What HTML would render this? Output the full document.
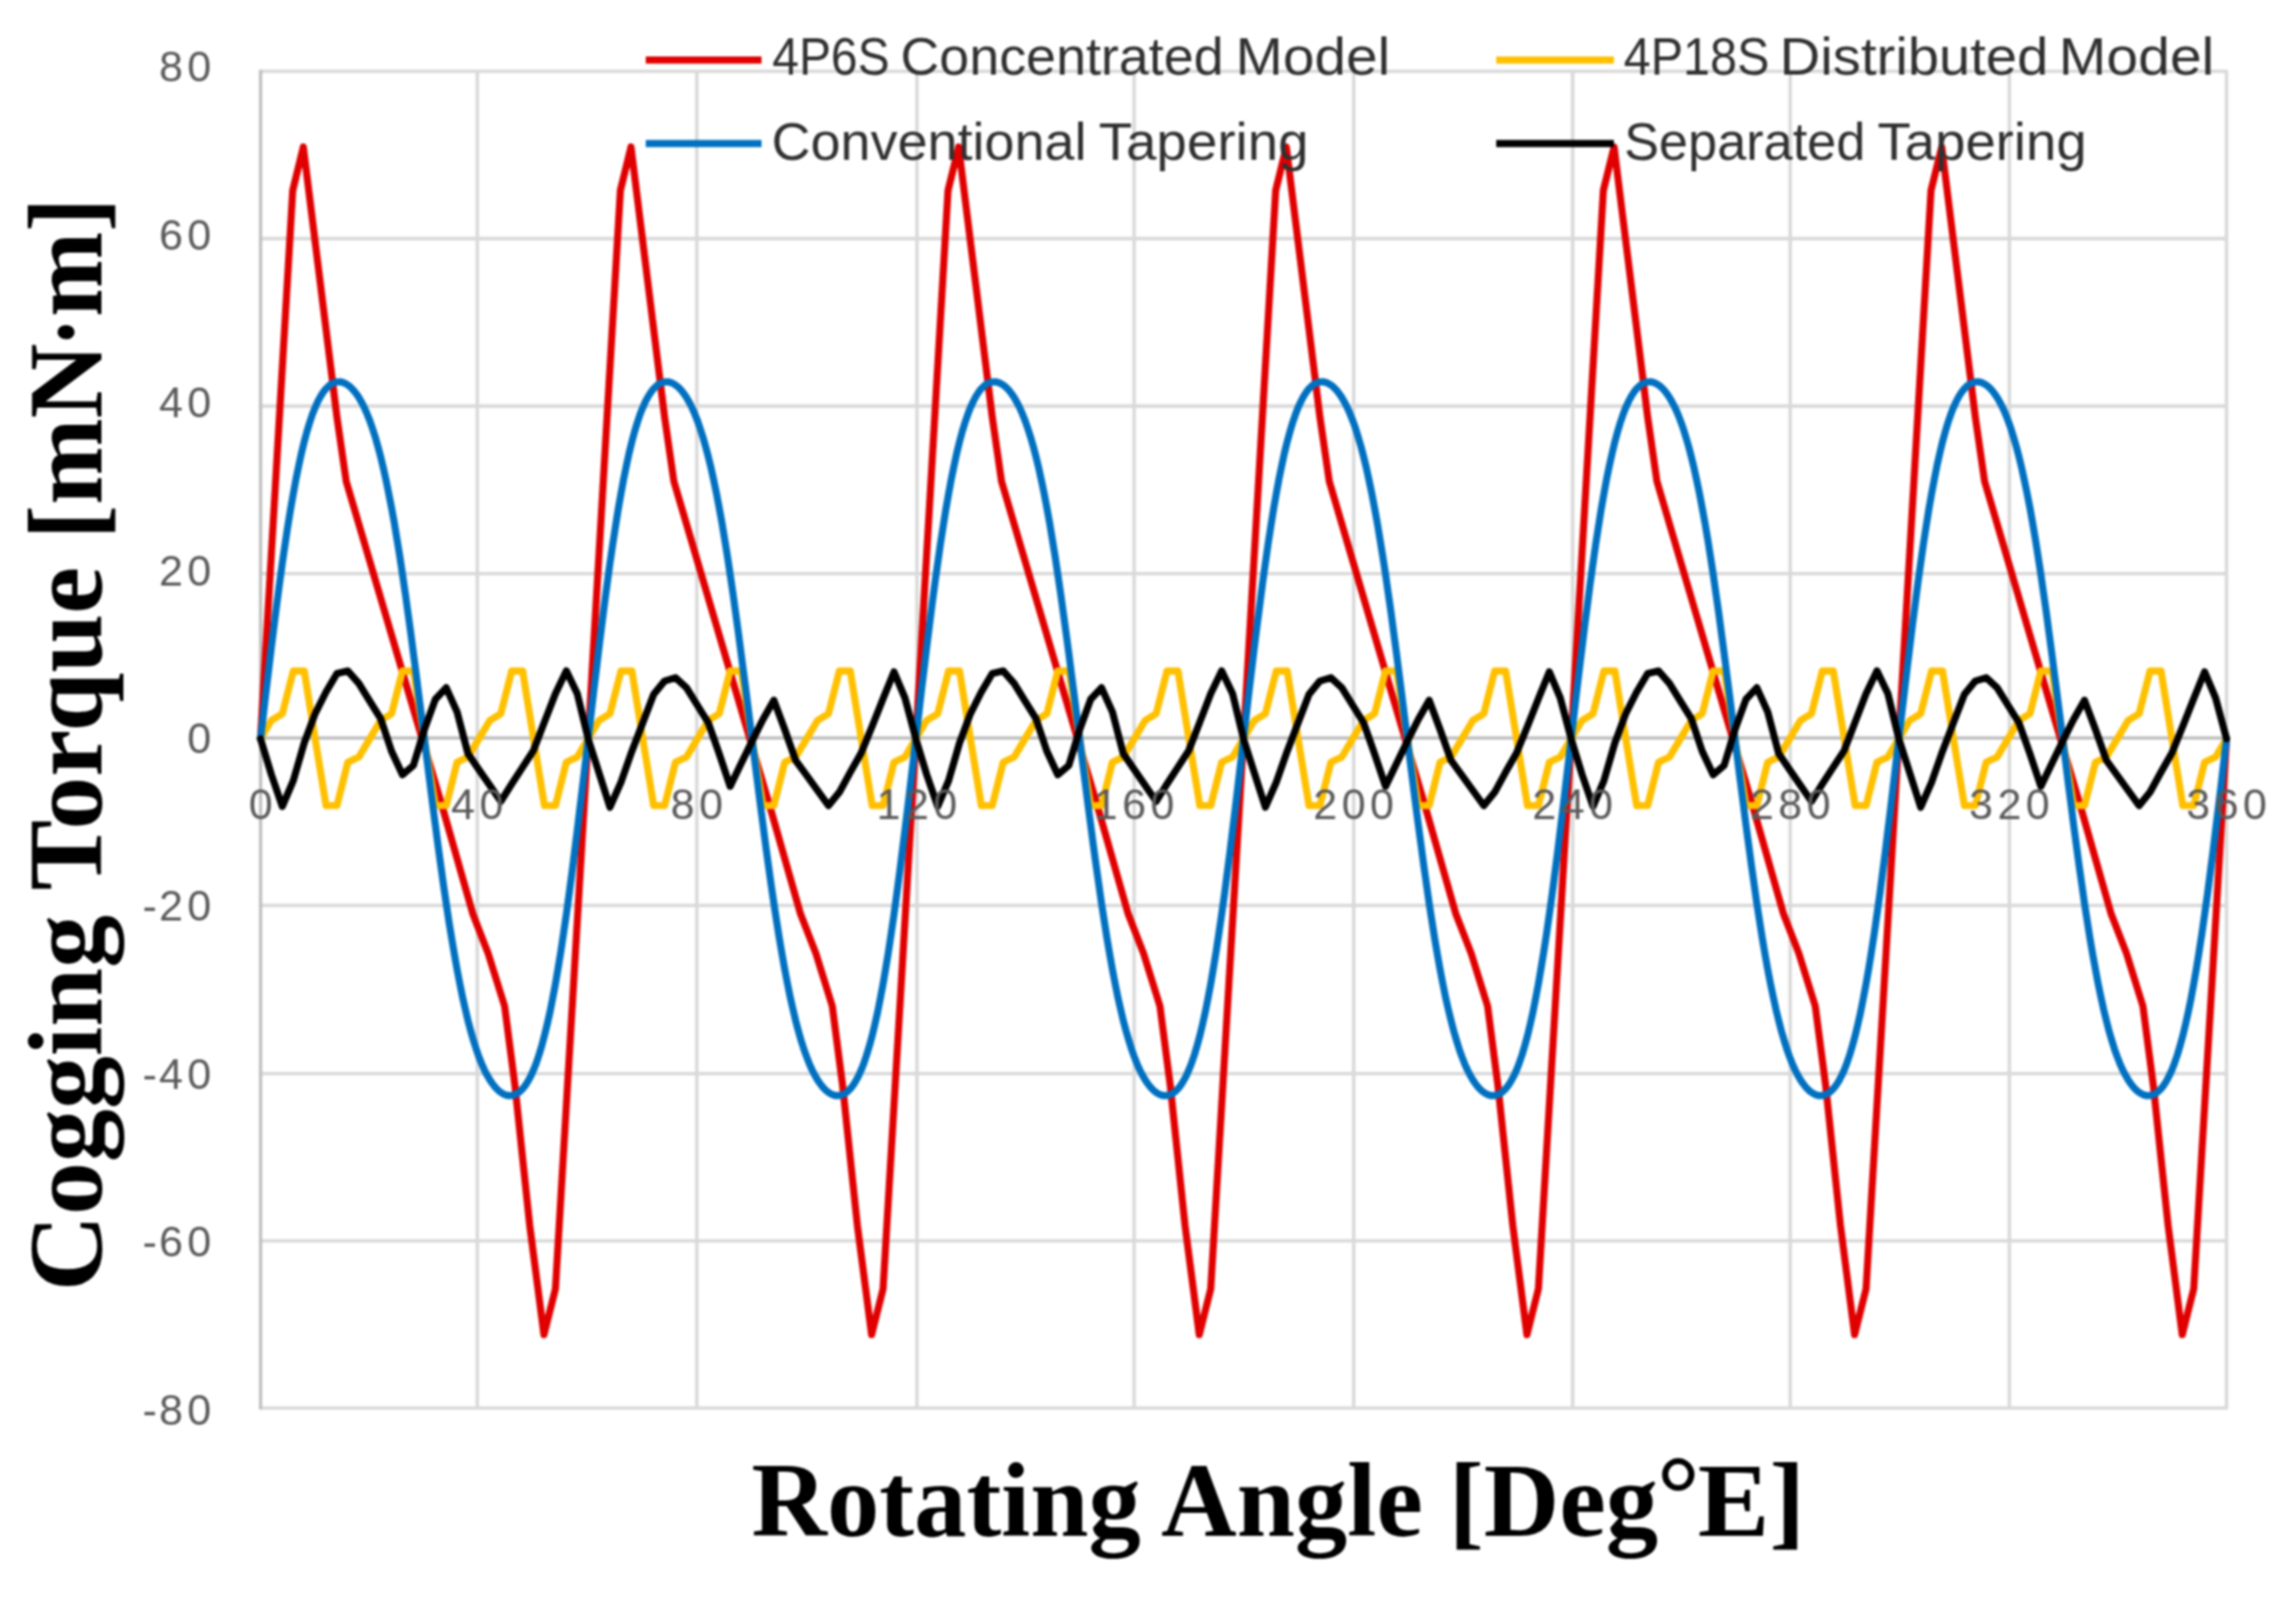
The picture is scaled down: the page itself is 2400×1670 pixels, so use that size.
<!DOCTYPE html>
<html lang="en">
<head>
<meta charset="utf-8">
<title>Cogging Torque vs Rotating Angle</title>
<style>
html,body{margin:0;padding:0;background:#ffffff;}
body{width:2400px;height:1670px;overflow:hidden;}
svg{display:block;filter:blur(0.9px);}
</style>
</head>
<body>
<svg width="2400" height="1670" viewBox="0 0 2400 1670">
<rect width="2400" height="1670" fill="#ffffff"/>
<g stroke="#d9d9d9" stroke-width="3.6" fill="none">
<line x1="270.9" y1="74.5" x2="2328.9" y2="74.5"/>
<line x1="270.9" y1="249.4" x2="2328.9" y2="249.4"/>
<line x1="270.9" y1="424.4" x2="2328.9" y2="424.4"/>
<line x1="270.9" y1="599.5" x2="2328.9" y2="599.5"/>
<line x1="270.9" y1="946.3" x2="2328.9" y2="946.3"/>
<line x1="270.9" y1="1122.0" x2="2328.9" y2="1122.0"/>
<line x1="270.9" y1="1296.8" x2="2328.9" y2="1296.8"/>
<line x1="270.9" y1="1471.5" x2="2328.9" y2="1471.5"/>
<line x1="498.9" y1="74.5" x2="498.9" y2="1471.5"/>
<line x1="728.4" y1="74.5" x2="728.4" y2="1471.5"/>
<line x1="958.5" y1="74.5" x2="958.5" y2="1471.5"/>
<line x1="1185.5" y1="74.5" x2="1185.5" y2="1471.5"/>
<line x1="1415.0" y1="74.5" x2="1415.0" y2="1471.5"/>
<line x1="1643.9" y1="74.5" x2="1643.9" y2="1471.5"/>
<line x1="1871.3" y1="74.5" x2="1871.3" y2="1471.5"/>
<line x1="2100.4" y1="74.5" x2="2100.4" y2="1471.5"/>
<line x1="2327.4" y1="74.5" x2="2327.4" y2="1471.5"/>
</g>
<g stroke="#bfbfbf" stroke-width="3.4" fill="none">
<line x1="272.4" y1="73.0" x2="272.4" y2="1473.0"/>
<line x1="272.4" y1="771.2" x2="2328.9" y2="771.2"/>
</g>
<g fill="none" stroke-width="7.4" stroke-linejoin="round" stroke-linecap="round">
<path stroke="#e00000" d="M272.3,772.0 L306.0,199.0 L317.1,153.6 L352.2,435.7 L361.9,503.0 L441.3,772.0 L463.0,845.4 L494.4,955.4 L510.3,996.5 L527.5,1051.5 L538.3,1134.5 L553.7,1280.4 L568.6,1394.8 L580.6,1346.8 L614.8,772.0 L648.5,199.0 L659.6,153.6 L694.7,435.7 L704.4,503.0 L783.8,772.0 L805.5,845.4 L836.9,955.4 L852.9,996.5 L870.0,1051.5 L880.8,1134.5 L896.2,1280.4 L911.1,1394.8 L923.1,1346.8 L957.3,772.0 L991.0,199.0 L1002.1,153.6 L1037.2,435.7 L1046.9,503.0 L1126.3,772.0 L1148.0,845.4 L1179.4,955.4 L1195.4,996.5 L1212.5,1051.5 L1223.3,1134.5 L1238.7,1280.4 L1253.6,1394.8 L1265.6,1346.8 L1299.8,772.0 L1333.5,199.0 L1344.6,153.6 L1379.7,435.7 L1389.5,503.0 L1468.8,772.0 L1490.5,845.4 L1521.9,955.4 L1537.9,996.5 L1555.0,1051.5 L1565.8,1134.5 L1581.3,1280.4 L1596.1,1394.8 L1608.1,1346.8 L1642.3,772.0 L1676.0,199.0 L1687.2,153.6 L1722.3,435.7 L1732.0,503.0 L1811.3,772.0 L1833.0,845.4 L1864.4,955.4 L1880.4,996.5 L1897.5,1051.5 L1908.4,1134.5 L1923.8,1280.4 L1938.6,1394.8 L1950.6,1346.8 L1984.8,772.0 L2018.5,199.0 L2029.7,153.6 L2064.8,435.7 L2074.5,503.0 L2153.8,772.0 L2175.5,845.4 L2206.9,955.4 L2222.9,996.5 L2240.0,1051.5 L2250.9,1134.5 L2266.3,1280.4 L2281.1,1394.8 L2293.1,1346.8 L2327.4,772.0"/>
<path stroke="#ffc000" d="M272.3,772.0 L283.7,752.8 L295.1,745.8 L306.6,701.2 L318.0,701.2 L329.4,772.0 L340.8,841.9 L352.2,841.9 L363.6,796.5 L375.1,791.2 L386.5,772.0 L397.9,752.8 L409.3,745.8 L420.7,701.2 L432.1,701.2 L443.6,772.0 L455.0,841.9 L466.4,841.9 L477.8,796.5 L489.2,791.2 L500.6,772.0 L512.1,752.8 L523.5,745.8 L534.9,701.2 L546.3,701.2 L557.7,772.0 L569.1,841.9 L580.6,841.9 L592.0,796.5 L603.4,791.2 L614.8,772.0 L626.2,752.8 L637.6,745.8 L649.1,701.2 L660.5,701.2 L671.9,772.0 L683.3,841.9 L694.7,841.9 L706.1,796.5 L717.6,791.2 L729.0,772.0 L740.4,752.8 L751.8,745.8 L763.2,701.2 L774.6,701.2 L786.1,772.0 L797.5,841.9 L808.9,841.9 L820.3,796.5 L831.7,791.2 L843.2,772.0 L854.6,752.8 L866.0,745.8 L877.4,701.2 L888.8,701.2 L900.2,772.0 L911.7,841.9 L923.1,841.9 L934.5,796.5 L945.9,791.2 L957.3,772.0 L968.7,752.8 L980.2,745.8 L991.6,701.2 L1003.0,701.2 L1014.4,772.0 L1025.8,841.9 L1037.2,841.9 L1048.7,796.5 L1060.1,791.2 L1071.5,772.0 L1082.9,752.8 L1094.3,745.8 L1105.7,701.2 L1117.2,701.2 L1128.6,772.0 L1140.0,841.9 L1151.4,841.9 L1162.8,796.5 L1174.2,791.2 L1185.7,772.0 L1197.1,752.8 L1208.5,745.8 L1219.9,701.2 L1231.3,701.2 L1242.7,772.0 L1254.2,841.9 L1265.6,841.9 L1277.0,796.5 L1288.4,791.2 L1299.8,772.0 L1311.2,752.8 L1322.7,745.8 L1334.1,701.2 L1345.5,701.2 L1356.9,772.0 L1368.3,841.9 L1379.7,841.9 L1391.2,796.5 L1402.6,791.2 L1414.0,772.0 L1425.4,752.8 L1436.8,745.8 L1448.3,701.2 L1459.7,701.2 L1471.1,772.0 L1482.5,841.9 L1493.9,841.9 L1505.3,796.5 L1516.8,791.2 L1528.2,772.0 L1539.6,752.8 L1551.0,745.8 L1562.4,701.2 L1573.8,701.2 L1585.3,772.0 L1596.7,841.9 L1608.1,841.9 L1619.5,796.5 L1630.9,791.2 L1642.3,772.0 L1653.8,752.8 L1665.2,745.8 L1676.6,701.2 L1688.0,701.2 L1699.4,772.0 L1710.8,841.9 L1722.3,841.9 L1733.7,796.5 L1745.1,791.2 L1756.5,772.0 L1767.9,752.8 L1779.3,745.8 L1790.8,701.2 L1802.2,701.2 L1813.6,772.0 L1825.0,841.9 L1836.4,841.9 L1847.8,796.5 L1859.3,791.2 L1870.7,772.0 L1882.1,752.8 L1893.5,745.8 L1904.9,701.2 L1916.3,701.2 L1927.8,772.0 L1939.2,841.9 L1950.6,841.9 L1962.0,796.5 L1973.4,791.2 L1984.8,772.0 L1996.3,752.8 L2007.7,745.8 L2019.1,701.2 L2030.5,701.2 L2041.9,772.0 L2053.4,841.9 L2064.8,841.9 L2076.2,796.5 L2087.6,791.2 L2099.0,772.0 L2110.4,752.8 L2121.9,745.8 L2133.3,701.2 L2144.7,701.2 L2156.1,772.0 L2167.5,841.9 L2178.9,841.9 L2190.4,796.5 L2201.8,791.2 L2213.2,772.0 L2224.6,752.8 L2236.0,745.8 L2247.4,701.2 L2258.9,701.2 L2270.3,772.0 L2281.7,841.9 L2293.1,841.9 L2304.5,796.5 L2315.9,791.2 L2327.4,772.0"/>
<path stroke="#0070c0" d="M272.3,772.0 L275.2,747.7 L278.0,723.4 L280.9,699.5 L283.7,676.0 L286.6,653.0 L289.4,630.7 L292.3,609.1 L295.1,588.5 L298.0,568.7 L300.8,550.0 L303.7,532.4 L306.6,515.9 L309.4,500.6 L312.3,486.4 L315.1,473.5 L318.0,461.7 L320.8,451.1 L323.7,441.6 L326.5,433.2 L329.4,425.9 L332.2,419.6 L335.1,414.2 L337.9,409.8 L340.8,406.1 L343.7,403.3 L346.5,401.2 L349.4,399.8 L352.2,399.1 L355.1,399.0 L357.9,399.5 L360.8,400.7 L363.6,402.4 L366.5,404.7 L369.3,407.6 L372.2,411.2 L375.1,415.4 L377.9,420.3 L380.8,425.9 L383.6,432.3 L386.5,439.5 L389.3,447.6 L392.2,456.6 L395.0,466.5 L397.9,477.3 L400.7,489.2 L403.6,502.1 L406.4,515.9 L409.3,530.8 L412.2,546.7 L415.0,563.6 L417.9,581.4 L420.7,600.1 L423.6,619.7 L426.4,639.9 L429.3,660.9 L432.1,682.4 L435.0,704.4 L437.8,726.7 L440.7,749.3 L443.6,772.0 L446.4,794.7 L449.3,817.3 L452.1,839.6 L455.0,861.6 L457.8,883.1 L460.7,904.1 L463.5,924.3 L466.4,943.9 L469.2,962.6 L472.1,980.4 L475.0,997.3 L477.8,1013.2 L480.7,1028.1 L483.5,1041.9 L486.4,1054.8 L489.2,1066.7 L492.1,1077.5 L494.9,1087.4 L497.8,1096.4 L500.6,1104.5 L503.5,1111.7 L506.3,1118.1 L509.2,1123.7 L512.1,1128.6 L514.9,1132.8 L517.8,1136.4 L520.6,1139.3 L523.5,1141.6 L526.3,1143.3 L529.2,1144.5 L532.0,1145.0 L534.9,1144.9 L537.7,1144.2 L540.6,1142.8 L543.5,1140.7 L546.3,1137.9 L549.2,1134.2 L552.0,1129.8 L554.9,1124.4 L557.7,1118.1 L560.6,1110.8 L563.4,1102.4 L566.3,1092.9 L569.1,1082.3 L572.0,1070.5 L574.9,1057.6 L577.7,1043.4 L580.6,1028.1 L583.4,1011.6 L586.3,994.0 L589.1,975.3 L592.0,955.5 L594.8,934.9 L597.7,913.3 L600.5,891.0 L603.4,868.0 L606.2,844.5 L609.1,820.6 L612.0,796.3 L614.8,772.0 L617.7,747.7 L620.5,723.4 L623.4,699.5 L626.2,676.0 L629.1,653.0 L631.9,630.7 L634.8,609.1 L637.6,588.5 L640.5,568.7 L643.4,550.0 L646.2,532.4 L649.1,515.9 L651.9,500.6 L654.8,486.4 L657.6,473.5 L660.5,461.7 L663.3,451.1 L666.2,441.6 L669.0,433.2 L671.9,425.9 L674.7,419.6 L677.6,414.2 L680.5,409.8 L683.3,406.1 L686.2,403.3 L689.0,401.2 L691.9,399.8 L694.7,399.1 L697.6,399.0 L700.4,399.5 L703.3,400.7 L706.1,402.4 L709.0,404.7 L711.9,407.6 L714.7,411.2 L717.6,415.4 L720.4,420.3 L723.3,425.9 L726.1,432.3 L729.0,439.5 L731.8,447.6 L734.7,456.6 L737.5,466.5 L740.4,477.3 L743.3,489.2 L746.1,502.1 L749.0,515.9 L751.8,530.8 L754.7,546.7 L757.5,563.6 L760.4,581.4 L763.2,600.1 L766.1,619.7 L768.9,639.9 L771.8,660.9 L774.6,682.4 L777.5,704.4 L780.4,726.7 L783.2,749.3 L786.1,772.0 L788.9,794.7 L791.8,817.3 L794.6,839.6 L797.5,861.6 L800.3,883.1 L803.2,904.1 L806.0,924.3 L808.9,943.9 L811.8,962.6 L814.6,980.4 L817.5,997.3 L820.3,1013.2 L823.2,1028.1 L826.0,1041.9 L828.9,1054.8 L831.7,1066.7 L834.6,1077.5 L837.4,1087.4 L840.3,1096.4 L843.2,1104.5 L846.0,1111.7 L848.9,1118.1 L851.7,1123.7 L854.6,1128.6 L857.4,1132.8 L860.3,1136.4 L863.1,1139.3 L866.0,1141.6 L868.8,1143.3 L871.7,1144.5 L874.5,1145.0 L877.4,1144.9 L880.3,1144.2 L883.1,1142.8 L886.0,1140.7 L888.8,1137.9 L891.7,1134.2 L894.5,1129.8 L897.4,1124.4 L900.2,1118.1 L903.1,1110.8 L905.9,1102.4 L908.8,1092.9 L911.7,1082.3 L914.5,1070.5 L917.4,1057.6 L920.2,1043.4 L923.1,1028.1 L925.9,1011.6 L928.8,994.0 L931.6,975.3 L934.5,955.5 L937.3,934.9 L940.2,913.3 L943.0,891.0 L945.9,868.0 L948.8,844.5 L951.6,820.6 L954.5,796.3 L957.3,772.0 L960.2,747.7 L963.0,723.4 L965.9,699.5 L968.7,676.0 L971.6,653.0 L974.4,630.7 L977.3,609.1 L980.2,588.5 L983.0,568.7 L985.9,550.0 L988.7,532.4 L991.6,515.9 L994.4,500.6 L997.3,486.4 L1000.1,473.5 L1003.0,461.7 L1005.8,451.1 L1008.7,441.6 L1011.6,433.2 L1014.4,425.9 L1017.3,419.6 L1020.1,414.2 L1023.0,409.8 L1025.8,406.1 L1028.7,403.3 L1031.5,401.2 L1034.4,399.8 L1037.2,399.1 L1040.1,399.0 L1042.9,399.5 L1045.8,400.7 L1048.7,402.4 L1051.5,404.7 L1054.4,407.6 L1057.2,411.2 L1060.1,415.4 L1062.9,420.3 L1065.8,425.9 L1068.6,432.3 L1071.5,439.5 L1074.3,447.6 L1077.2,456.6 L1080.1,466.5 L1082.9,477.3 L1085.8,489.2 L1088.6,502.1 L1091.5,515.9 L1094.3,530.8 L1097.2,546.7 L1100.0,563.6 L1102.9,581.4 L1105.7,600.1 L1108.6,619.7 L1111.4,639.9 L1114.3,660.9 L1117.2,682.4 L1120.0,704.4 L1122.9,726.7 L1125.7,749.3 L1128.6,772.0 L1131.4,794.7 L1134.3,817.3 L1137.1,839.6 L1140.0,861.6 L1142.8,883.1 L1145.7,904.1 L1148.6,924.3 L1151.4,943.9 L1154.3,962.6 L1157.1,980.4 L1160.0,997.3 L1162.8,1013.2 L1165.7,1028.1 L1168.5,1041.9 L1171.4,1054.8 L1174.2,1066.7 L1177.1,1077.5 L1180.0,1087.4 L1182.8,1096.4 L1185.7,1104.5 L1188.5,1111.7 L1191.4,1118.1 L1194.2,1123.7 L1197.1,1128.6 L1199.9,1132.8 L1202.8,1136.4 L1205.6,1139.3 L1208.5,1141.6 L1211.3,1143.3 L1214.2,1144.5 L1217.1,1145.0 L1219.9,1144.9 L1222.8,1144.2 L1225.6,1142.8 L1228.5,1140.7 L1231.3,1137.9 L1234.2,1134.2 L1237.0,1129.8 L1239.9,1124.4 L1242.7,1118.1 L1245.6,1110.8 L1248.5,1102.4 L1251.3,1092.9 L1254.2,1082.3 L1257.0,1070.5 L1259.9,1057.6 L1262.7,1043.4 L1265.6,1028.1 L1268.4,1011.6 L1271.3,994.0 L1274.1,975.3 L1277.0,955.5 L1279.9,934.9 L1282.7,913.3 L1285.6,891.0 L1288.4,868.0 L1291.3,844.5 L1294.1,820.6 L1297.0,796.3 L1299.8,772.0 L1302.7,747.7 L1305.5,723.4 L1308.4,699.5 L1311.2,676.0 L1314.1,653.0 L1317.0,630.7 L1319.8,609.1 L1322.7,588.5 L1325.5,568.7 L1328.4,550.0 L1331.2,532.4 L1334.1,515.9 L1336.9,500.6 L1339.8,486.4 L1342.6,473.5 L1345.5,461.7 L1348.4,451.1 L1351.2,441.6 L1354.1,433.2 L1356.9,425.9 L1359.8,419.6 L1362.6,414.2 L1365.5,409.8 L1368.3,406.1 L1371.2,403.3 L1374.0,401.2 L1376.9,399.8 L1379.7,399.1 L1382.6,399.0 L1385.5,399.5 L1388.3,400.7 L1391.2,402.4 L1394.0,404.7 L1396.9,407.6 L1399.7,411.2 L1402.6,415.4 L1405.4,420.3 L1408.3,425.9 L1411.1,432.3 L1414.0,439.5 L1416.9,447.6 L1419.7,456.6 L1422.6,466.5 L1425.4,477.3 L1428.3,489.2 L1431.1,502.1 L1434.0,515.9 L1436.8,530.8 L1439.7,546.7 L1442.5,563.6 L1445.4,581.4 L1448.3,600.1 L1451.1,619.7 L1454.0,639.9 L1456.8,660.9 L1459.7,682.4 L1462.5,704.4 L1465.4,726.7 L1468.2,749.3 L1471.1,772.0 L1473.9,794.7 L1476.8,817.3 L1479.6,839.6 L1482.5,861.6 L1485.4,883.1 L1488.2,904.1 L1491.1,924.3 L1493.9,943.9 L1496.8,962.6 L1499.6,980.4 L1502.5,997.3 L1505.3,1013.2 L1508.2,1028.1 L1511.0,1041.9 L1513.9,1054.8 L1516.8,1066.7 L1519.6,1077.5 L1522.5,1087.4 L1525.3,1096.4 L1528.2,1104.5 L1531.0,1111.7 L1533.9,1118.1 L1536.7,1123.7 L1539.6,1128.6 L1542.4,1132.8 L1545.3,1136.4 L1548.1,1139.3 L1551.0,1141.6 L1553.9,1143.3 L1556.7,1144.5 L1559.6,1145.0 L1562.4,1144.9 L1565.3,1144.2 L1568.1,1142.8 L1571.0,1140.7 L1573.8,1137.9 L1576.7,1134.2 L1579.5,1129.8 L1582.4,1124.4 L1585.3,1118.1 L1588.1,1110.8 L1591.0,1102.4 L1593.8,1092.9 L1596.7,1082.3 L1599.5,1070.5 L1602.4,1057.6 L1605.2,1043.4 L1608.1,1028.1 L1610.9,1011.6 L1613.8,994.0 L1616.7,975.3 L1619.5,955.5 L1622.4,934.9 L1625.2,913.3 L1628.1,891.0 L1630.9,868.0 L1633.8,844.5 L1636.6,820.6 L1639.5,796.3 L1642.3,772.0 L1645.2,747.7 L1648.0,723.4 L1650.9,699.5 L1653.8,676.0 L1656.6,653.0 L1659.5,630.7 L1662.3,609.1 L1665.2,588.5 L1668.0,568.7 L1670.9,550.0 L1673.7,532.4 L1676.6,515.9 L1679.4,500.6 L1682.3,486.4 L1685.2,473.5 L1688.0,461.7 L1690.9,451.1 L1693.7,441.6 L1696.6,433.2 L1699.4,425.9 L1702.3,419.6 L1705.1,414.2 L1708.0,409.8 L1710.8,406.1 L1713.7,403.3 L1716.6,401.2 L1719.4,399.8 L1722.3,399.1 L1725.1,399.0 L1728.0,399.5 L1730.8,400.7 L1733.7,402.4 L1736.5,404.7 L1739.4,407.6 L1742.2,411.2 L1745.1,415.4 L1747.9,420.3 L1750.8,425.9 L1753.7,432.3 L1756.5,439.5 L1759.4,447.6 L1762.2,456.6 L1765.1,466.5 L1767.9,477.3 L1770.8,489.2 L1773.6,502.1 L1776.5,515.9 L1779.3,530.8 L1782.2,546.7 L1785.1,563.6 L1787.9,581.4 L1790.8,600.1 L1793.6,619.7 L1796.5,639.9 L1799.3,660.9 L1802.2,682.4 L1805.0,704.4 L1807.9,726.7 L1810.7,749.3 L1813.6,772.0 L1816.4,794.7 L1819.3,817.3 L1822.2,839.6 L1825.0,861.6 L1827.9,883.1 L1830.7,904.1 L1833.6,924.3 L1836.4,943.9 L1839.3,962.6 L1842.1,980.4 L1845.0,997.3 L1847.8,1013.2 L1850.7,1028.1 L1853.6,1041.9 L1856.4,1054.8 L1859.3,1066.7 L1862.1,1077.5 L1865.0,1087.4 L1867.8,1096.4 L1870.7,1104.5 L1873.5,1111.7 L1876.4,1118.1 L1879.2,1123.7 L1882.1,1128.6 L1885.0,1132.8 L1887.8,1136.4 L1890.7,1139.3 L1893.5,1141.6 L1896.4,1143.3 L1899.2,1144.5 L1902.1,1145.0 L1904.9,1144.9 L1907.8,1144.2 L1910.6,1142.8 L1913.5,1140.7 L1916.3,1137.9 L1919.2,1134.2 L1922.1,1129.8 L1924.9,1124.4 L1927.8,1118.1 L1930.6,1110.8 L1933.5,1102.4 L1936.3,1092.9 L1939.2,1082.3 L1942.0,1070.5 L1944.9,1057.6 L1947.7,1043.4 L1950.6,1028.1 L1953.5,1011.6 L1956.3,994.0 L1959.2,975.3 L1962.0,955.5 L1964.9,934.9 L1967.7,913.3 L1970.6,891.0 L1973.4,868.0 L1976.3,844.5 L1979.1,820.6 L1982.0,796.3 L1984.8,772.0 L1987.7,747.7 L1990.6,723.4 L1993.4,699.5 L1996.3,676.0 L1999.1,653.0 L2002.0,630.7 L2004.8,609.1 L2007.7,588.5 L2010.5,568.7 L2013.4,550.0 L2016.2,532.4 L2019.1,515.9 L2022.0,500.6 L2024.8,486.4 L2027.7,473.5 L2030.5,461.7 L2033.4,451.1 L2036.2,441.6 L2039.1,433.2 L2041.9,425.9 L2044.8,419.6 L2047.6,414.2 L2050.5,409.8 L2053.4,406.1 L2056.2,403.3 L2059.1,401.2 L2061.9,399.8 L2064.8,399.1 L2067.6,399.0 L2070.5,399.5 L2073.3,400.7 L2076.2,402.4 L2079.0,404.7 L2081.9,407.6 L2084.7,411.2 L2087.6,415.4 L2090.5,420.3 L2093.3,425.9 L2096.2,432.3 L2099.0,439.5 L2101.9,447.6 L2104.7,456.6 L2107.6,466.5 L2110.4,477.3 L2113.3,489.2 L2116.1,502.1 L2119.0,515.9 L2121.9,530.8 L2124.7,546.7 L2127.6,563.6 L2130.4,581.4 L2133.3,600.1 L2136.1,619.7 L2139.0,639.9 L2141.8,660.9 L2144.7,682.4 L2147.5,704.4 L2150.4,726.7 L2153.3,749.3 L2156.1,772.0 L2159.0,794.7 L2161.8,817.3 L2164.7,839.6 L2167.5,861.6 L2170.4,883.1 L2173.2,904.1 L2176.1,924.3 L2178.9,943.9 L2181.8,962.6 L2184.6,980.4 L2187.5,997.3 L2190.4,1013.2 L2193.2,1028.1 L2196.1,1041.9 L2198.9,1054.8 L2201.8,1066.7 L2204.6,1077.5 L2207.5,1087.4 L2210.3,1096.4 L2213.2,1104.5 L2216.0,1111.7 L2218.9,1118.1 L2221.8,1123.7 L2224.6,1128.6 L2227.5,1132.8 L2230.3,1136.4 L2233.2,1139.3 L2236.0,1141.6 L2238.9,1143.3 L2241.7,1144.5 L2244.6,1145.0 L2247.4,1144.9 L2250.3,1144.2 L2253.1,1142.8 L2256.0,1140.7 L2258.9,1137.9 L2261.7,1134.2 L2264.6,1129.8 L2267.4,1124.4 L2270.3,1118.1 L2273.1,1110.8 L2276.0,1102.4 L2278.8,1092.9 L2281.7,1082.3 L2284.5,1070.5 L2287.4,1057.6 L2290.3,1043.4 L2293.1,1028.1 L2296.0,1011.6 L2298.8,994.0 L2301.7,975.3 L2304.5,955.5 L2307.4,934.9 L2310.2,913.3 L2313.1,891.0 L2315.9,868.0 L2318.8,844.5 L2321.7,820.6 L2324.5,796.3 L2327.4,772.0"/>
<path stroke="#000000" d="M272.3,772.0 L283.7,809.6 L295.1,842.8 L306.6,815.7 L318.0,776.4 L329.4,745.8 L340.8,723.1 L352.2,703.9 L363.6,701.2 L375.1,714.3 L386.5,732.7 L397.9,751.0 L409.3,785.1 L420.7,809.6 L432.1,800.0 L443.6,762.4 L455.0,730.9 L466.4,718.7 L477.8,744.0 L489.2,787.7 L500.6,804.3 L512.1,820.9 L523.5,837.5 L534.9,819.2 L546.3,801.7 L557.7,784.2 L569.1,754.5 L580.6,724.8 L592.0,701.2 L603.4,724.8 L614.8,772.0 L626.2,807.8 L637.6,843.6 L649.1,817.4 L660.5,785.1 L671.9,755.4 L683.3,725.7 L694.7,711.7 L706.1,708.2 L717.6,718.7 L729.0,737.1 L740.4,755.4 L751.8,787.7 L763.2,821.8 L774.6,798.2 L786.1,774.6 L797.5,751.9 L808.9,731.8 L820.3,762.4 L831.7,794.7 L843.2,810.4 L854.6,826.2 L866.0,841.9 L877.4,827.9 L888.8,806.9 L900.2,786.8 L911.7,758.9 L923.1,730.1 L934.5,702.1 L945.9,729.2 L957.3,772.0 L968.7,809.6 L980.2,842.8 L991.6,815.7 L1003.0,776.4 L1014.4,745.8 L1025.8,723.1 L1037.2,703.9 L1048.7,701.2 L1060.1,714.3 L1071.5,732.7 L1082.9,751.0 L1094.3,785.1 L1105.7,809.6 L1117.2,800.0 L1128.6,762.4 L1140.0,730.9 L1151.4,718.7 L1162.8,744.0 L1174.2,787.7 L1185.7,804.3 L1197.1,820.9 L1208.5,837.5 L1219.9,819.2 L1231.3,801.7 L1242.7,784.2 L1254.2,754.5 L1265.6,724.8 L1277.0,701.2 L1288.4,724.8 L1299.8,772.0 L1311.2,807.8 L1322.7,843.6 L1334.1,817.4 L1345.5,785.1 L1356.9,755.4 L1368.3,725.7 L1379.7,711.7 L1391.2,708.2 L1402.6,718.7 L1414.0,737.1 L1425.4,755.4 L1436.8,787.7 L1448.3,821.8 L1459.7,798.2 L1471.1,774.6 L1482.5,751.9 L1493.9,731.8 L1505.3,762.4 L1516.8,794.7 L1528.2,810.4 L1539.6,826.2 L1551.0,841.9 L1562.4,827.9 L1573.8,806.9 L1585.3,786.8 L1596.7,758.9 L1608.1,730.1 L1619.5,702.1 L1630.9,729.2 L1642.3,772.0 L1653.8,809.6 L1665.2,842.8 L1676.6,815.7 L1688.0,776.4 L1699.4,745.8 L1710.8,723.1 L1722.3,703.9 L1733.7,701.2 L1745.1,714.3 L1756.5,732.7 L1767.9,751.0 L1779.3,785.1 L1790.8,809.6 L1802.2,800.0 L1813.6,762.4 L1825.0,730.9 L1836.4,718.7 L1847.8,744.0 L1859.3,787.7 L1870.7,804.3 L1882.1,820.9 L1893.5,837.5 L1904.9,819.2 L1916.3,801.7 L1927.8,784.2 L1939.2,754.5 L1950.6,724.8 L1962.0,701.2 L1973.4,724.8 L1984.8,772.0 L1996.3,807.8 L2007.7,843.6 L2019.1,817.4 L2030.5,785.1 L2041.9,755.4 L2053.4,725.7 L2064.8,711.7 L2076.2,708.2 L2087.6,718.7 L2099.0,737.1 L2110.4,755.4 L2121.9,787.7 L2133.3,821.8 L2144.7,798.2 L2156.1,774.6 L2167.5,751.9 L2178.9,731.8 L2190.4,762.4 L2201.8,794.7 L2213.2,810.4 L2224.6,826.2 L2236.0,841.9 L2247.4,827.9 L2258.9,806.9 L2270.3,786.8 L2281.7,758.9 L2293.1,730.1 L2304.5,702.1 L2315.9,729.2 L2327.4,772.0"/>
</g>
<g font-family="'Liberation Sans', sans-serif" font-size="45" letter-spacing="4.6" fill="#595959">
<text x="225.5" y="85.4" text-anchor="end">80</text>
<text x="225.5" y="260.8" text-anchor="end">60</text>
<text x="225.5" y="436.2" text-anchor="end">40</text>
<text x="225.5" y="611.6" text-anchor="end">20</text>
<text x="225.5" y="787.0" text-anchor="end">0</text>
<text x="225.5" y="962.4" text-anchor="end"><tspan letter-spacing="2.2">-</tspan>20</text>
<text x="225.5" y="1137.8" text-anchor="end"><tspan letter-spacing="2.2">-</tspan>40</text>
<text x="225.5" y="1313.2" text-anchor="end"><tspan letter-spacing="2.2">-</tspan>60</text>
<text x="225.5" y="1488.6" text-anchor="end"><tspan letter-spacing="2.2">-</tspan>80</text>
<text x="274.7" y="855.6" text-anchor="middle">0</text>
<text x="501.2" y="855.6" text-anchor="middle">40</text>
<text x="730.7" y="855.6" text-anchor="middle">80</text>
<text x="960.8" y="855.6" text-anchor="middle">120</text>
<text x="1187.8" y="855.6" text-anchor="middle">160</text>
<text x="1417.3" y="855.6" text-anchor="middle">200</text>
<text x="1646.2" y="855.6" text-anchor="middle">240</text>
<text x="1873.6" y="855.6" text-anchor="middle">280</text>
<text x="2102.7" y="855.6" text-anchor="middle">320</text>
<text x="2329.7" y="855.6" text-anchor="middle">360</text>
</g>
<g font-family="'Liberation Sans', sans-serif" font-size="55.8" fill="#303030">
<text transform="translate(807.28 78.00) scale(0.8979 1)">4P6S</text>
<text transform="translate(941.22 78.00) scale(1.0088 1)">Concentrated</text>
<text transform="translate(1291.61 78.00) scale(1.0641 1)">Model</text>
<text transform="translate(1697.26 78.00) scale(0.9085 1)">4P18S</text>
<text transform="translate(1860.36 78.00) scale(1.0532 1)">Distributed</text>
<text transform="translate(2151.98 78.00) scale(1.0703 1)">Model</text>
<text transform="translate(806.52 166.50) scale(1.0110 1)">Conventional</text>
<text transform="translate(1148.52 166.50) scale(1.0240 1)">Tapering</text>
<text transform="translate(1697.65 166.50) scale(0.9798 1)">Separated</text>
<text transform="translate(1962.42 166.50) scale(1.0225 1)">Tapering</text>
</g>
<g stroke-width="7.4" fill="none">
<line x1="675" y1="62.8" x2="796" y2="62.8" stroke="#e00000"/>
<line x1="1564" y1="62.8" x2="1687" y2="62.8" stroke="#ffc000"/>
<line x1="675" y1="150" x2="796" y2="150" stroke="#0070c0"/>
<line x1="1564" y1="150" x2="1687" y2="150" stroke="#000000"/>
</g>
<g font-family="'Liberation Serif', serif" font-weight="bold" font-size="109.3" fill="#000000">
<text transform="translate(785.45 1605.40) scale(1.0006 1)">Rotating Angle [Deg</text>
<text transform="translate(1774.80 1605.40) scale(1.0262 1)">E]</text>
<text transform="translate(1731.96 1598.80) scale(0.9898 1)" font-size="113">°</text>
<text transform="translate(106.30 1349.62) rotate(-90) scale(1.0122 1)">Cogging Torque</text>
<text transform="translate(106.30 563.64) rotate(-90) scale(0.9914 1)">[mN</text>
<text transform="translate(106.30 362.52) rotate(-90) scale(0.8447 1)">·</text>
<text transform="translate(106.30 331.34) rotate(-90) scale(0.9785 1)">m]</text>
</g>
</svg>
</body>
</html>
